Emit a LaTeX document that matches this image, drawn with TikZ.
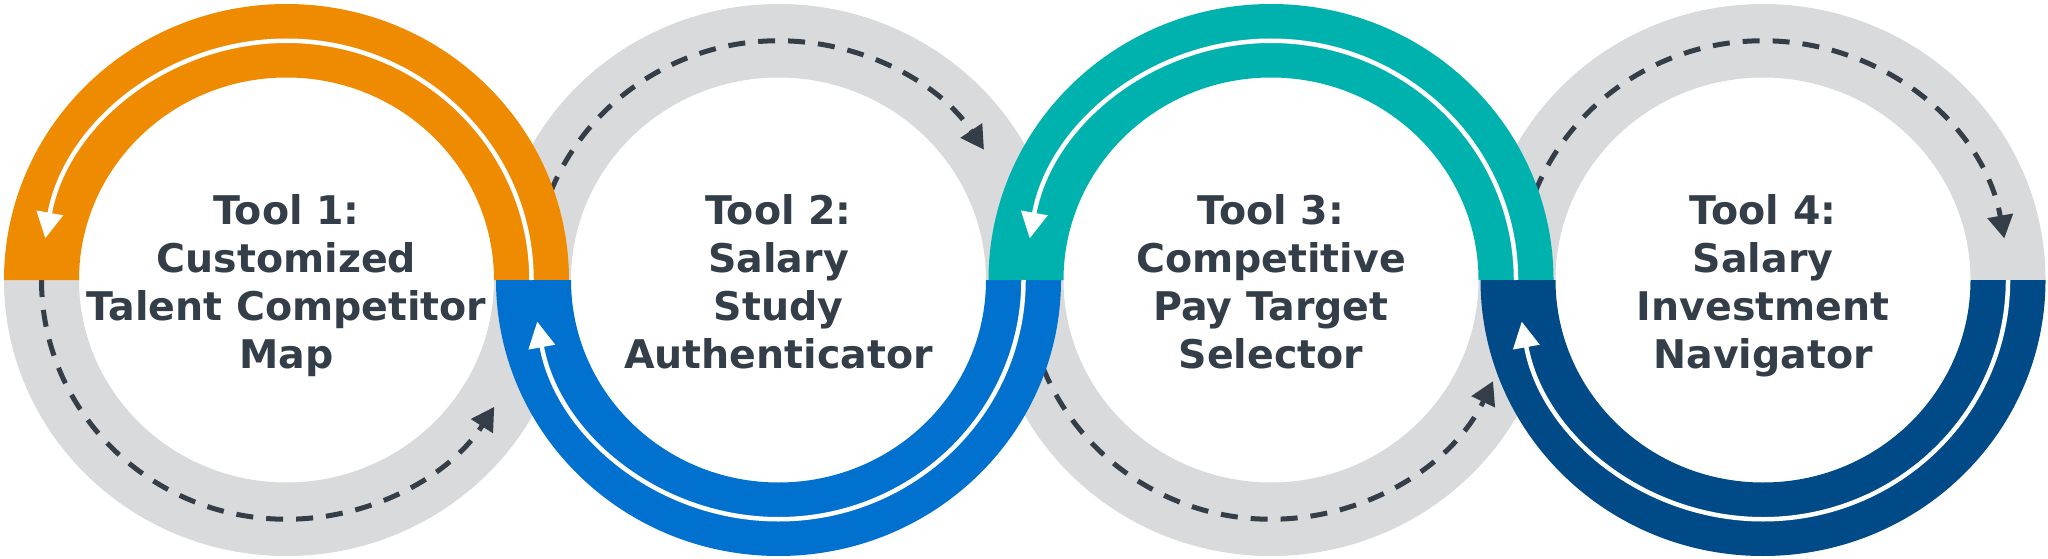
\documentclass[tikz,border=0pt]{standalone}
\usepackage{fontspec}
\setmainfont{DejaVu Sans}
\usetikzlibrary{arrows.meta}
\definecolor{cOrange}{HTML}{EE8B00}
\definecolor{cBlue}{HTML}{0071CE}
\definecolor{cTeal}{HTML}{00B2AE}
\definecolor{cNavy}{HTML}{004A87}
\definecolor{cGrey}{HTML}{D9DADC}
\definecolor{cDark}{HTML}{343E48}
\newcommand\ringtop[2]{\fill[#2] ({#1+282.5},278) arc[start angle=0,end angle=180,x radius=282.5pt,y radius=276pt] -- ({#1-207.5},278) arc[start angle=180,end angle=0,x radius=207.5pt,y radius=202.5pt] -- cycle;}
\newcommand\ringbot[2]{\fill[#2] ({#1+282.5},278) arc[start angle=0,end angle=-180,x radius=282.5pt,y radius=276pt] -- ({#1-207.5},278) arc[start angle=180,end angle=360,x radius=207.5pt,y radius=202.5pt] -- cycle;}
\begin{document}
\begin{tikzpicture}[x=1pt,y=1pt,
  dashflow/.style={cDark,line width=5pt,dash pattern=on 17pt off 13pt,-{Triangle[length=23pt,width=25pt]}},
  whiteflow/.style={white,line width=4.5pt,-{Triangle[length=26pt,width=26pt]}},
  mid/.style={x radius=245pt,y radius=239.25pt},
  tooltext/.style={text=cDark,font=\fontsize{39.5}{48}\selectfont\bfseries,align=center,inner sep=0pt,anchor=north}]
\useasboundingbox (0,0) rectangle (2048,558);
\fill[white] (0,0) rectangle (2048,558);
% grey halves
\ringbot{286.5}{cGrey}
\ringtop{778.5}{cGrey}
\ringbot{1271}{cGrey}
\ringtop{1763}{cGrey}
% dashed flows
\draw[dashflow] ({286.5-245},278) arc[start angle=180,end angle=328,mid];
\draw[dashflow] ({778.5-245},278) arc[start angle=180,end angle=33,mid];
\draw[dashflow] ({1271-245},278) arc[start angle=180,end angle=335,mid];
\draw[dashflow] ({1763-245},278) arc[start angle=180,end angle=10,mid];
% coloured halves
\ringtop{286.5}{cOrange}
\ringbot{778.5}{cBlue}
\ringtop{1271}{cTeal}
\ringbot{1763}{cNavy}
% white flows
\draw[whiteflow] ({286.5+245},278) arc[start angle=0,end angle=170,mid];
\draw[whiteflow] ({778.5+245},278) arc[start angle=0,end angle=-170,mid];
\draw[whiteflow] ({1271+245},278) arc[start angle=0,end angle=170,mid];
\draw[whiteflow] ({1763+245},278) arc[start angle=0,end angle=-170,mid];
% texts
\node[tooltext] (t1) at (286.5,363.6) {Tool 1:\\Customized\\Talent Competitor\\Map};
\node[tooltext] (t2) at (778.5,363.6) {Tool 2:\\Salary\\Study\\Authenticator};
\node[tooltext] (t3) at (1271,363.6) {Tool 3:\\Competitive\\Pay Target\\Selector};
\node[tooltext] (t4) at (1763,363.6) {Tool 4:\\Salary\\Investment\\Navigator};
\end{tikzpicture}
\end{document}
